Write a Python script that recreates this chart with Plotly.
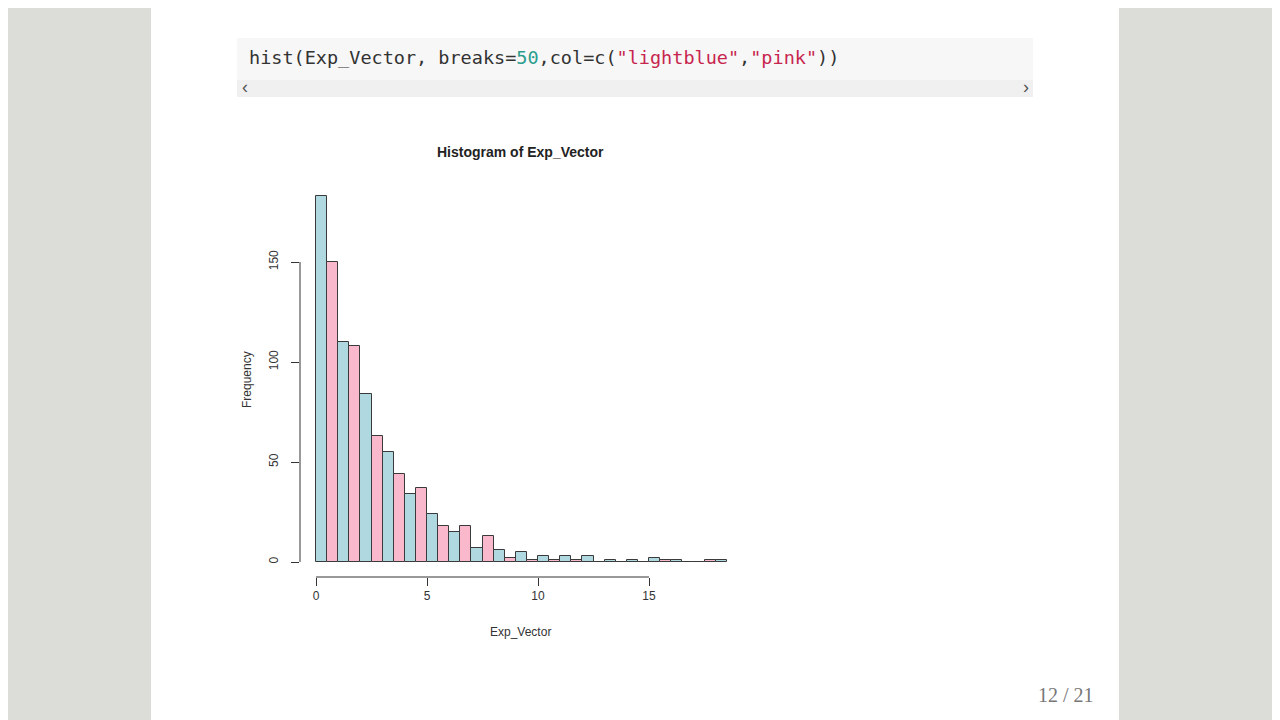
import plotly.graph_objects as go

counts = [183, 150, 110, 108, 84, 63, 55, 44, 34, 37, 24, 18, 15, 18, 7, 13, 6, 2, 5,
          1, 3, 1, 3, 1, 3, 0, 1, 0, 1, 0, 2, 1, 1, 0, 0, 1, 1]
bin_width = 0.5
bin_centers = [bin_width * i + bin_width / 2 for i in range(len(counts))]
bar_colors = ["#b0d8e0" if i % 2 == 0 else "#f9b8cc" for i in range(len(counts))]
x_ticks = [0, 5, 10, 15]
y_ticks = [0, 50, 100, 150]

OFF = 8  # page offset compensation
L, R, T, B = 300 - OFF, 740 - OFF, 180 - OFF, 577 - OFF

fig = go.Figure()
fig.add_trace(go.Bar(x=bin_centers, y=counts, width=bin_width,
                     marker=dict(color=bar_colors, line=dict(color="#3a3a3a", width=1))))

def px(x): return (x - OFF - L) / (R - L)
def py(y): return (B - (y - OFF)) / (B - T)

fig.add_shape(type="rect", xref="paper", yref="paper", x0=px(151), x1=px(1119),
              y0=py(730), y1=py(-10), fillcolor="white", line_width=0, layer="below")
fig.add_shape(type="rect", xref="paper", yref="paper", x0=px(237), x1=px(1033),
              y0=py(97), y1=py(38), fillcolor="#f7f7f7", line_width=0, layer="below")
fig.add_shape(type="rect", xref="paper", yref="paper", x0=px(237), x1=px(1033),
              y0=py(97), y1=py(80), fillcolor="#f0f0f0", line_width=0, layer="below")

fig.add_shape(type="line", xref="x", yref="paper", x0=0, x1=15, y0=0, y1=0,
              line=dict(color="#333333", width=1))
fig.add_shape(type="line", xref="paper", yref="y", x0=0, x1=0, y0=0, y1=150,
              line=dict(color="#333333", width=1))

code = ('hist(Exp_Vector, breaks=<span style="color:#2a9d8f">50</span>,col=c('
        '<span style="color:#c7254e">"lightblue"</span>,'
        '<span style="color:#c7254e">"pink"</span>))')
anns = [
    dict(text=code, x=px(247), y=py(58), xanchor="left",
         font=dict(family="DejaVu Sans Mono", size=18.5, color="#333333")),
    dict(text="‹", x=px(245), y=py(87), font=dict(size=18, color="#555555")),
    dict(text="›", x=px(1026), y=py(87), font=dict(size=18, color="#555555")),
    dict(text="<b>Histogram of Exp_Vector</b>", x=px(520), y=py(152),
         font=dict(family="Liberation Sans", size=14, color="#222222")),
    dict(text="Frequency", x=px(247), y=py(380), textangle=-90,
         font=dict(family="Liberation Sans", size=12, color="#333333")),
    dict(text="Exp_Vector", x=px(520), y=py(632),
         font=dict(family="Liberation Sans", size=12, color="#333333")),
    dict(text="12 / 21", x=px(1066), y=py(695),
         font=dict(family="Liberation Serif", size=20, color="#777777")),
]
for a in anns:
    a.setdefault("xanchor", "center")
    a.setdefault("yanchor", "middle")
    fig.add_annotation(xref="paper", yref="paper", showarrow=False, **a)

fig.update_layout(
    width=1280, height=720, showlegend=False, bargap=0,
    paper_bgcolor="#dcdcd8", plot_bgcolor="white",
    margin=dict(l=L, r=1280 - R, t=T, b=720 - B),
    font=dict(family="Liberation Sans", size=12, color="#333333"),
    xaxis=dict(range=[-16/22.2, 424/22.2], tickvals=x_ticks, ticks="outside", ticklen=8,
               tickcolor="#333333", showgrid=False, zeroline=False, showline=False),
    yaxis=dict(range=[-7.5, 191], tickvals=y_ticks, ticks="outside", ticklen=8,
               tickcolor="#333333", tickangle=-90, showgrid=False, zeroline=False,
               showline=False, ticklabelstandoff=8),
)
fig.write_html("out.html")
